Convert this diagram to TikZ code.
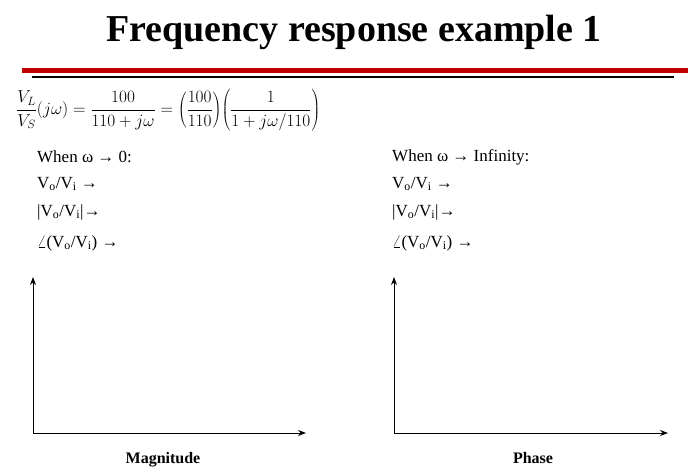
\documentclass[tikz,border=0pt]{standalone}
\usepackage{fontspec}
\setmainfont{Liberation Serif}
\usetikzlibrary{arrows.meta}
\definecolor{darkred}{RGB}{192,0,0}
\tikzset{txt/.style={anchor=west,inner sep=0pt,font=\fontsize{17}{20}\selectfont},
axis/.style={-{Stealth[length=8pt,width=6pt]},line width=1pt},
lab/.style={anchor=base,font=\fontsize{16}{19}\selectfont\bfseries,inner sep=0pt}}
\newcommand{\VoVi}{V\textsubscript{o}/V\textsubscript{i}}
\begin{document}
\begin{tikzpicture}[x=1pt,y=-1pt]
\useasboundingbox (0,0) rectangle (700,474);
\node[font=\fontsize{38}{44}\selectfont\bfseries,inner sep=0pt] (title) at (354,32) {Frequency response example 1};
\coordinate (r1) at (22,70); \coordinate (r2) at (688,70);
\coordinate (b1) at (32,77); \coordinate (b2) at (674,77);
\draw[darkred,line width=5pt] (r1) -- (r2);
\draw[line width=1.6pt] (b1) -- (b2);
\node[anchor=west,inner sep=0pt,font=\fontsize{16.5}{19}\selectfont] (eq) at (16,110)
{$\displaystyle \frac{V_L}{V_S}(j\omega)=\frac{100}{110+j\omega}=\left(\frac{100}{110}\right)\!\left(\frac{1}{1+j\omega/110}\right)$};
\node[txt] (l1) at (37,157) {When ω → 0:};
\node[txt] (l2) at (37,184) {\VoVi\ →};
\node[txt] (l3) at (37,212) {|\VoVi|→};
\node[txt] (l4) at (37,243) {$\angle$(\VoVi) →};
\node[txt] (r1t) at (392,157) {When ω → Infinity:};
\node[txt] (r2t) at (392,184) {\VoVi\ →};
\node[txt] (r3t) at (392,212) {|\VoVi|→};
\node[txt] (r4t) at (392,243) {$\angle$(\VoVi) →};
\coordinate (o1) at (33,433); \coordinate (y1) at (33,277); \coordinate (x1) at (306,433);
\coordinate (o2) at (394,433); \coordinate (y2) at (394,277); \coordinate (x2) at (668,433);
\draw[axis] (o1) -- (y1); \draw[axis] (o1) -- (x1);
\draw[axis] (o2) -- (y2); \draw[axis] (o2) -- (x2);
\node[lab] (m) at (163,463) {Magnitude};
\node[lab] (p) at (533,463) {Phase};
\end{tikzpicture}
\end{document}
